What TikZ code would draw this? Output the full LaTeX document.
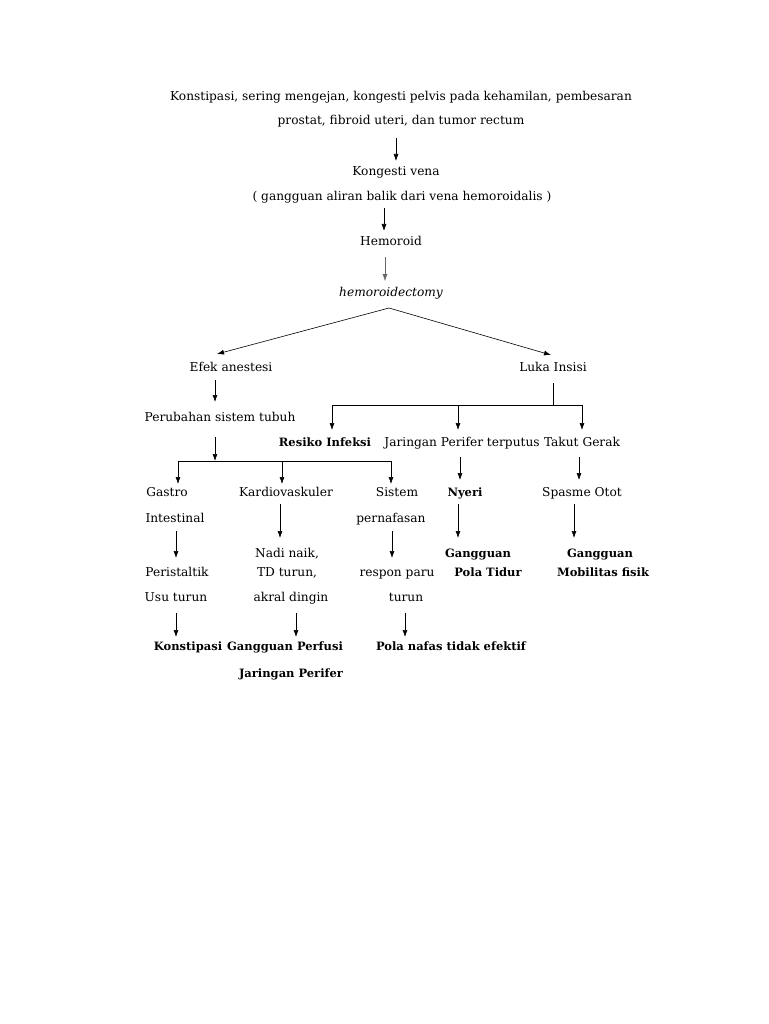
\documentclass[tikz,border=0pt]{standalone}
\usepackage{fontspec}
\setmainfont{DejaVu Serif}
\usepackage{tikz}
\usetikzlibrary{calc,arrows.meta}

\tikzset{
  txt/.style={anchor=base,inner sep=0pt,font=\fontsize{12.2}{14}\selectfont},
  bold/.style={txt,font=\fontsize{11.5}{14}\selectfont\bfseries},
  arr/.style={-{Latex[length=7pt,width=5pt]},line width=0.6pt},
}

\begin{document}
\begin{tikzpicture}[x=1pt,y=1pt]
        \useasboundingbox (0,0) rectangle (768,-1024);
        % penyebab
        \node[txt] (sebab1) at (401,-101) {Konstipasi, sering mengejan, kongesti pelvis pada kehamilan, pembesaran};
        \node[txt] (sebab2) at (401,-125) {prostat, fibroid uteri, dan tumor rectum};
        \node[txt] (kongesti) at (396,-176) {Kongesti vena};
        \node[txt] (aliran) at (402,-201) {( gangguan aliran balik dari vena hemoroidalis )};
        \node[txt] (hemoroid) at (391,-245) {Hemoroid};
        \node[txt] (operasi) at (391,-296) {\itshape hemoroidectomy};
        \draw[arr] ([xshift=-5,yshift=-13]sebab2.base) -- ([xshift=-5,yshift=-36]sebab2.base);
        \draw[arr] ([xshift=-18,yshift=-7]aliran.base) -- ([xshift=-18,yshift=-30]aliran.base);
        \draw[arr,black!60,line width=0.4pt] ([xshift=-6,yshift=-12]hemoroid.base) -- ([xshift=-6,yshift=-36]hemoroid.base);
        % cabang
        \node[txt] (efek) at (231,-371) {Efek anestesi};
        \node[txt] (luka) at (553,-371) {Luka Insisi};
        \coordinate (puncak) at ([xshift=-2,yshift=-12]operasi.base);
        \draw[arr] (puncak) -- ([xshift=-14,yshift=17]efek.base);
        \draw[arr] (puncak) -- ([xshift=-2,yshift=16]luka.base);
        % efek anestesi
        \node[txt] (tubuh) at (220,-421) {Perubahan sistem tubuh};
        \draw[arr] ([xshift=-16,yshift=-9]efek.base) -- ([xshift=-5,yshift=19]tubuh.base);
        \coordinate (bar2) at ([xshift=-5,yshift=-40]tubuh.base);
        \draw[arr] ([xshift=-5,yshift=-16]tubuh.base) -- (bar2);
        \node[txt] (gastro) at (167,-496) {Gastro};
        \node[txt] (kardio) at (286,-496) {Kardiovaskuler};
        \node[txt] (sistem) at (397,-496) {Sistem};
        \draw[line width=0.6pt] (bar2 -| 178,0) -- (bar2 -| 391,0);
        \draw[arr] (bar2 -| 178,0) -- ([xshift=11,yshift=12]gastro.base);
        \draw[arr] (bar2 -| 282,0) -- ([xshift=-4,yshift=12]kardio.base);
        \draw[arr] (bar2 -| 391,0) -- ([xshift=-6,yshift=12]sistem.base);
        % luka insisi
        \node[bold] (infeksi) at (325,-446) {Resiko Infeksi};
        \node[txt] (jaringan) at (462,-446) {Jaringan Perifer terputus};
        \node[txt] (takut) at (582,-446) {Takut Gerak};
        \coordinate (bar1) at ([yshift=-34]luka.base);
        \draw[line width=0.9pt] ([yshift=-12]luka.base) -- (bar1);
        \draw[line width=0.6pt] (bar1 -| 332,0) -- (bar1 -| 582,0);
        \draw[arr] (bar1 -| 332,0) -- ([xshift=7,yshift=16]infeksi.base);
        \draw[arr] (bar1 -| 458,0) -- ([xshift=-4,yshift=16]jaringan.base);
        \draw[arr] (bar1 -| 582,0) -- ([yshift=16]takut.base);
        \node[bold] (nyeri) at (465,-496) {Nyeri};
        \node[txt] (spasme) at (582,-496) {Spasme Otot};
        \draw[arr] ([xshift=-2,yshift=-11]jaringan.base) -- ([xshift=-5,yshift=16]nyeri.base);
        \draw[arr] ([xshift=-3,yshift=-11]takut.base) -- ([xshift=-3,yshift=16]spasme.base);
        % baris kedua
        \node[txt] (intestinal) at (175,-522) {Intestinal};
        \node[txt] (pernafasan) at (391,-522) {pernafasan};
        \node[txt] (nadi) at (287,-557) {Nadi naik,};
        \node[txt] (td) at (287,-576) {TD turun,};
        \node[txt] (akral) at (291,-601) {akral dingin};
        \node[txt] (peristaltik) at (177,-576) {Peristaltik};
        \node[txt] (usu) at (176,-601) {Usu turun};
        \node[txt] (respon) at (397,-576) {respon paru};
        \node[txt] (turun) at (406,-601) {turun};
        \node[bold] (gg1) at (478,-557) {Gangguan};
        \node[bold] (tidur) at (488,-576) {Pola Tidur};
        \node[bold] (gg2) at (600,-557) {Gangguan};
        \node[bold] (mobilitas) at (603,-576) {Mobilitas fisik};
        \draw[arr] ([xshift=-6,yshift=-8]kardio.base) -- ([xshift=-7,yshift=19]nadi.base);
        \draw[arr] ([xshift=-7,yshift=-8]nyeri.base) -- ([xshift=-20,yshift=19]gg1.base);
        \draw[arr] ([xshift=-8,yshift=-8]spasme.base) -- ([xshift=-26,yshift=19]gg2.base);
        \draw[arr] ([xshift=1,yshift=-9]intestinal.base) -- ([xshift=-1,yshift=18]peristaltik.base);
        \draw[arr] ([xshift=1,yshift=-9]pernafasan.base) -- ([xshift=-5,yshift=18]respon.base);
        % masalah
        \node[bold] (konstipasi) at (188,-650) {Konstipasi};
        \node[bold] (perfusi) at (285,-650) {Gangguan Perfusi};
        \node[bold] (perfusi2) at (291,-677) {Jaringan Perifer};
        \node[bold] (nafas) at (451,-650) {Pola nafas tidak efektif};
        \draw[arr] ([yshift=-12]usu.base) -- ([xshift=-12,yshift=13]konstipasi.base);
        \draw[arr] ([xshift=5,yshift=-12]akral.base) -- ([xshift=11,yshift=13]perfusi.base);
        \draw[arr] ([xshift=-1,yshift=-12]turun.base) -- ([xshift=-46,yshift=13]nafas.base);
\end{tikzpicture}
\end{document}
